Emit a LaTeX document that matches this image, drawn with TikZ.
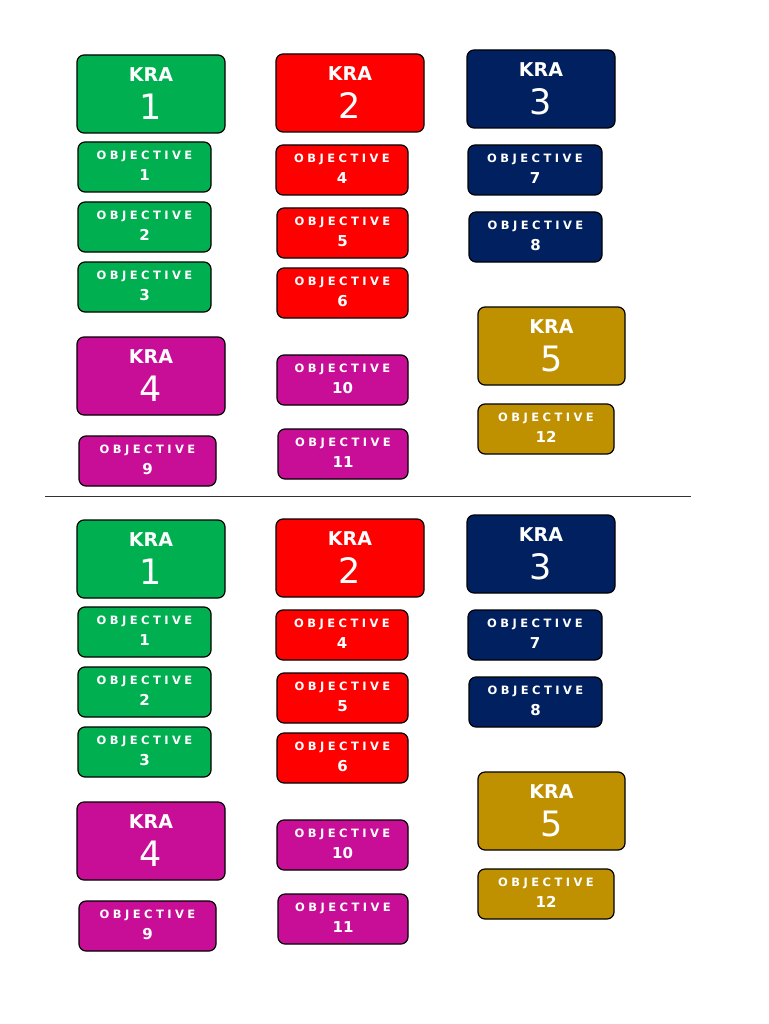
\documentclass[tikz,border=0pt]{standalone}
\usepackage{fontspec}
\setmainfont{DejaVu Sans}
\newfontfamily\spaced[LetterSpace=30]{DejaVu Sans}
\definecolor{cgreen}{HTML}{00B050}
\definecolor{cred}{HTML}{FF0000}
\definecolor{cnavy}{HTML}{002060}
\definecolor{cmag}{HTML}{C80E96}
\definecolor{cgold}{HTML}{BF9000}
\begin{document}
\begin{tikzpicture}[x=1pt,y=-1pt,
  kbox/.style={draw=black,line width=1.2pt,rounded corners=7pt,text=white,align=center},
]
\useasboundingbox (0,0) rectangle (768,1024);
\newcommand{\kra}[6]{% name, x1,y1,x2,y2, color, number
}
\def\KRA#1#2#3#4#5#6#7{\filldraw[kbox,fill=#6] (#2,#3) rectangle (#4,#5);
  \node[text=white,font=\bfseries\fontsize{19}{19}\selectfont] (#1t) at ({(#2+#4)/2},{#3+20}) {KRA};
  \node[text=white,font=\fontsize{35}{35}\selectfont] (#1n) at ({(#2+#4)/2},{#3+52}) {#7};}
\def\OBJ#1#2#3#4#5#6#7{\filldraw[kbox,fill=#6] (#2,#3) rectangle (#4,#5);
  \node[text=white,font=\spaced\bfseries\fontsize{11.5}{12}\selectfont] (#1t) at ({(#2+#4)/2},{#3+14}) {OBJECTIVE};
  \node[text=white,font=\bfseries\fontsize{15}{15}\selectfont] (#1n) at ({(#2+#4)/2},{#3+33}) {#7};}
\foreach \d/\s in {0/a,465/b}{
\begin{scope}[yshift=-\d]
\KRA{k1\s}{77}{55}{225}{133}{cgreen}{1}
\KRA{k2\s}{276}{54}{424}{132}{cred}{2}
\KRA{k3\s}{467}{50}{615}{128}{cnavy}{3}
\KRA{k4\s}{77}{337}{225}{415}{cmag}{4}
\KRA{k5\s}{478}{307}{625}{385}{cgold}{5}
\OBJ{o1\s}{78}{142}{211}{192}{cgreen}{1}
\OBJ{o2\s}{78}{202}{211}{252}{cgreen}{2}
\OBJ{o3\s}{78}{262}{211}{312}{cgreen}{3}
\OBJ{o4\s}{276}{145}{408}{195}{cred}{4}
\OBJ{o5\s}{277}{208}{408}{258}{cred}{5}
\OBJ{o6\s}{277}{268}{408}{318}{cred}{6}
\OBJ{o7\s}{468}{145}{602}{195}{cnavy}{7}
\OBJ{o8\s}{469}{212}{602}{262}{cnavy}{8}
\OBJ{o9\s}{79}{436}{216}{486}{cmag}{9}
\OBJ{o10\s}{277}{355}{408}{405}{cmag}{10}
\OBJ{o11\s}{278}{429}{408}{479}{cmag}{11}
\OBJ{o12\s}{478}{404}{614}{454}{cgold}{12}
\end{scope}}
\coordinate (la) at (45,496);
\coordinate (lb) at (691,496);
\draw[line width=0.8pt,black!80] (la) -- (lb);
\end{tikzpicture}
\end{document}
